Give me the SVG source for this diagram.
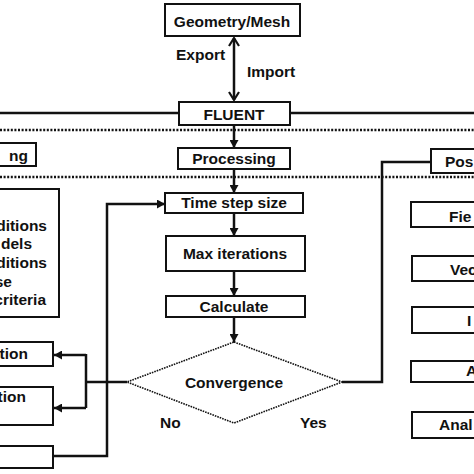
<svg xmlns="http://www.w3.org/2000/svg" width="474" height="474" viewBox="0 0 474 474">
<defs>
<style>
.box{fill:#fff;stroke:#111;stroke-width:2}
.t{font-family:"Liberation Sans",Arial,sans-serif;font-weight:bold;font-size:15.5px;fill:#111}
.m{text-anchor:middle}
.e{text-anchor:end}
.ln{fill:none;stroke:#111;stroke-width:2.5}
.dot{fill:none;stroke:#111;stroke-width:2.5;stroke-dasharray:2 1.6}
.arr{marker-end:url(#ah)}
</style>
<marker id="ah" markerUnits="userSpaceOnUse" markerWidth="9" markerHeight="9" refX="8" refY="4.5" orient="auto">
<path d="M0,0 L8,4.5 L0,9 z" fill="#111"/>
</marker>
<marker id="chev" markerUnits="userSpaceOnUse" markerWidth="12" markerHeight="12" refX="9" refY="6" orient="auto-start-reverse">
<path d="M1,1 L9,6 L1,11" fill="none" stroke="#111" stroke-width="2.2"/>
</marker>
</defs>
<rect width="474" height="474" fill="#fff"/>

<g id="connectors">
<line class="ln" x1="0" y1="113" x2="179" y2="113"/>
<line class="ln" x1="290" y1="113" x2="474" y2="113"/>
<line class="dot" x1="0" y1="130" x2="474" y2="130"/>
<line class="dot" x1="0" y1="177" x2="474" y2="177"/>
<line class="ln" x1="234" y1="38" x2="234" y2="100" style="marker-start:url(#chev);marker-end:url(#chev)"/>
<line class="ln arr" x1="234" y1="125" x2="234" y2="148"/>
<line class="ln arr" x1="234" y1="169" x2="234" y2="193"/>
<line class="ln arr" x1="234" y1="213" x2="234" y2="236"/>
<line class="ln arr" x1="234" y1="271" x2="234" y2="296"/>
<line class="ln arr" x1="234" y1="317" x2="234" y2="342"/>
<polyline class="ln" points="342,382 382,382 382,162 431,162"/>
<line class="ln" x1="127" y1="382" x2="86" y2="382"/>
<line class="ln" x1="86" y1="354" x2="86" y2="408"/>
<line class="ln arr" x1="86" y1="355" x2="54" y2="355"/>
<line class="ln arr" x1="86" y1="408" x2="54" y2="408"/>
<polyline class="ln arr" points="53,456 107,456 107,204 165,204"/>
</g>

<g id="geometry"><rect class="box" x="165" y="4" width="135" height="32"/><text class="t m" x="232" y="27">Geometry/Mesh</text></g>
<g id="export-label"><text class="t" x="176" y="60">Export</text></g>
<g id="import-label"><text class="t" x="247" y="77">Import</text></g>
<g id="fluent"><rect class="box" x="179" y="102" width="111" height="23"/><text class="t m" x="234" y="120">FLUENT</text></g>
<g id="processing"><rect class="box" x="178" y="148" width="112" height="21"/><text class="t m" x="234" y="164">Processing</text></g>
<g id="timestep"><rect class="box" x="165" y="193" width="138" height="20"/><text class="t m" x="234" y="208">Time step size</text></g>
<g id="maxiter"><rect class="box" x="166" y="236" width="139" height="35"/><text class="t m" x="235" y="259">Max iterations</text></g>
<g id="calculate"><rect class="box" x="166" y="296" width="139" height="21"/><text class="t m" x="234" y="312">Calculate</text></g>
<g id="convergence"><polygon points="234,342 342,382 234,423 127,382" fill="#fff" stroke="#111" stroke-width="1.6" stroke-dasharray="1.6 1"/><text class="t m" x="234" y="388">Convergence</text></g>
<g id="no-label"><text class="t" x="160" y="428">No</text></g>
<g id="yes-label"><text class="t" x="300" y="428">Yes</text></g>

<g id="preprocessing"><rect class="box" x="-10" y="143" width="46" height="23"/><text class="t e" x="28" y="161">ng</text></g>
<g id="setup"><rect class="box" x="-10" y="189" width="69" height="128"/>
<text class="t e" x="47" y="231">ditions</text>
<text class="t e" x="32" y="249">dels</text>
<text class="t e" x="47" y="268">ditions</text>
<text class="t e" x="12" y="287">se</text>
<text class="t e" x="46" y="305">criteria</text></g>
<g id="left1"><rect class="box" x="-10" y="342" width="63" height="24"/><text class="t e" x="28" y="359">tion</text></g>
<g id="left2"><rect class="box" x="-10" y="387" width="63" height="38"/><text class="t e" x="26" y="402">tion</text></g>
<g id="left3"><rect class="box" x="-10" y="446" width="63" height="22"/></g>

<g id="post"><rect class="box" x="431" y="149" width="60" height="24"/><text class="t" x="445" y="167">Pos</text></g>
<g id="r1"><rect class="box" x="411" y="202" width="80" height="25"/><text class="t" x="449" y="222">Fie</text></g>
<g id="r2"><rect class="box" x="412" y="256" width="80" height="25"/><text class="t" x="450" y="275">Vec</text></g>
<g id="r3"><rect class="box" x="412" y="307" width="80" height="26"/><text class="t" x="467" y="326">I</text></g>
<g id="r4"><rect class="box" x="411" y="361" width="80" height="21"/><text class="t" x="466" y="376">A</text></g>
<g id="r5"><rect class="box" x="412" y="412" width="80" height="26"/><text class="t" x="439" y="430">Anal</text></g>
</svg>
